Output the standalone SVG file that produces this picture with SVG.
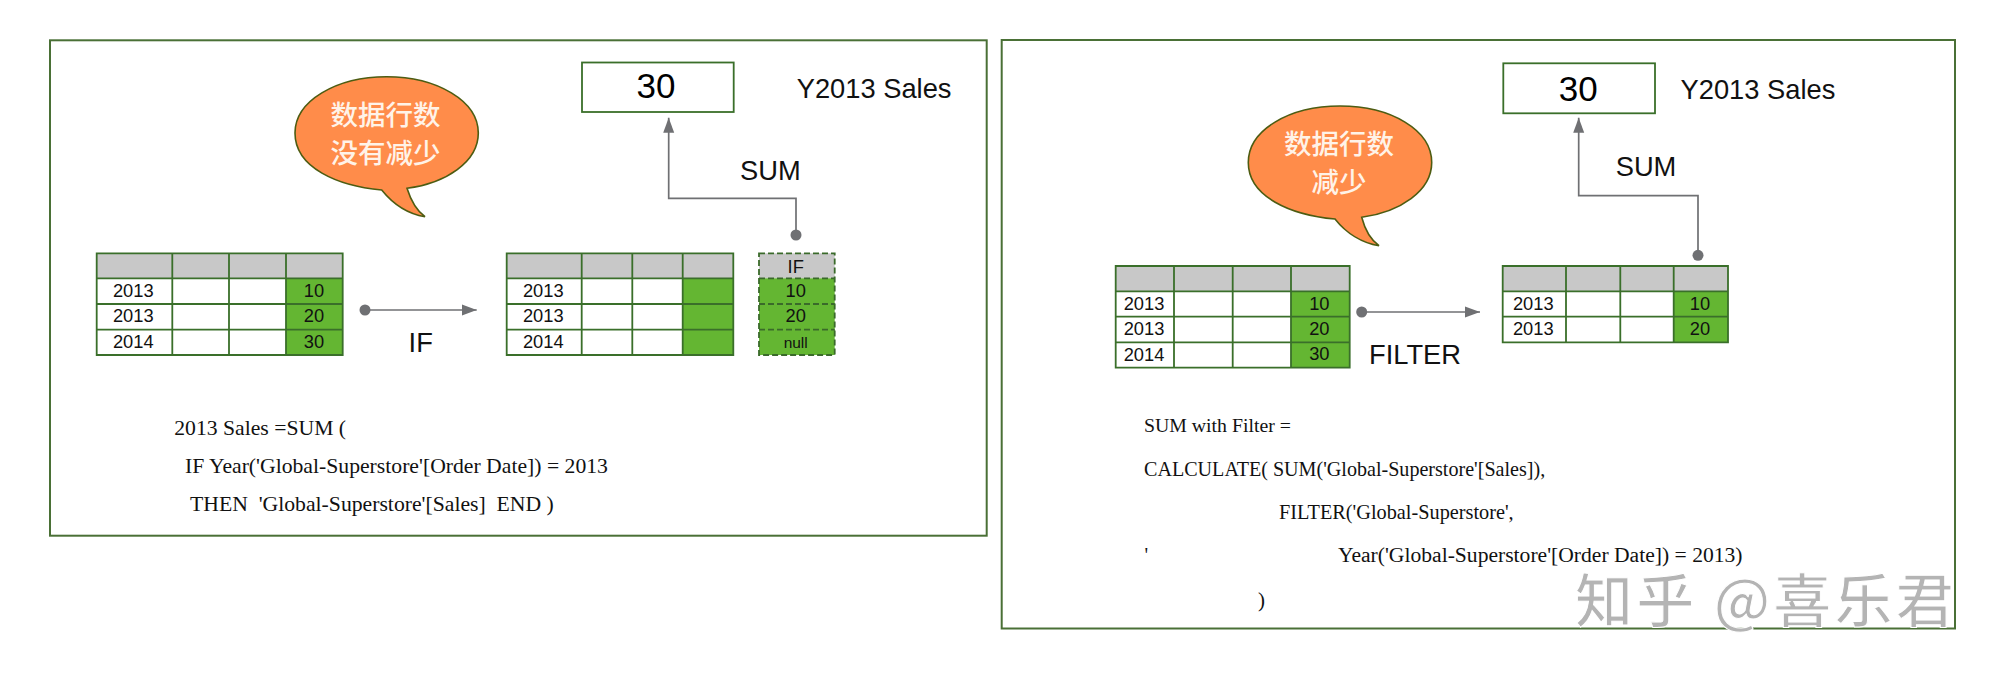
<svg xmlns="http://www.w3.org/2000/svg" width="2000" height="682" viewBox="0 0 2000 682">
<style>
.bg{fill:#fff}
.frame{fill:#fff;stroke:#4a7036;stroke-width:2}
.g{fill:none;stroke:#3a6f2a;stroke-width:1.8}
.hd{fill:#c8c8c8}
.gr{fill:#64b632}
.t{font-family:"Liberation Sans",Arial,sans-serif;fill:#111;font-size:18.3px;text-anchor:middle}
.l{font-family:"Liberation Sans",Arial,sans-serif;fill:#111;font-size:27.3px}
.n{font-family:"Liberation Sans",Arial,sans-serif;fill:#000;font-size:35px;text-anchor:middle}
.f{font-family:"Liberation Serif","Times New Roman",serif;fill:#111;font-size:21.7px}
.b{fill:#ff8c4a;stroke:#4d5c12;stroke-width:1.6}
.c{font-family:"Noto Sans CJK SC","Noto Sans",sans-serif;fill:#fff3e8;font-size:27.5px;font-weight:500;text-anchor:middle}
.w{fill:none;stroke:#6f7073;stroke-width:1.7}
.d{fill:#6f7073}
.wm{font-family:"Noto Sans CJK SC",sans-serif;font-size:58px;font-weight:500;fill:#b4b4b4;stroke:#fff;stroke-width:1;letter-spacing:3.2px}
.ds{stroke-dasharray:6 3;stroke:#3a6a2a}
</style>
<defs>
<marker id="arrow" markerUnits="userSpaceOnUse" markerWidth="16" markerHeight="12" refX="15" refY="6" orient="auto"><path d="M0 0.5L15 6L0 11.5Z" fill="#6f7073"/></marker>
</defs>
<rect class="bg" width="2000" height="682"/>
<rect id="frame-left" class="frame" x="50" y="40.3" width="936.7" height="495.4"/>
<rect id="frame-right" class="frame" x="1001.7" y="40" width="953.3" height="588.5"/>

<g id="bubble-left">
<path class="b" d="M381.7 190C338 186 295 168 295 133C295 101 336 76.7 386.7 76.7C437 76.7 478.3 101 478.3 133C478.3 162 446 183 407 188.3C411 201 417 211 425 216.7C408 214 393 204 381.7 190Z"/>
<text class="c" x="385.5" y="125">数据行数</text>
<text class="c" x="385.5" y="163">没有减少</text>
</g>
<g id="table-left-1">
<rect class="hd" x="96.7" y="253.3" width="246" height="25"/>
<rect class="gr" x="286" y="278.3" width="56.7" height="76.7"/>
<path class="g" d="M96.7 253.3H342.7V355H96.7ZM96.7 278.3H342.7M96.7 304H342.7M96.7 329.7H342.7M172.3 253.3V355M229 253.3V355M286 253.3V355"/>
<text class="t" x="133.3" y="296.7">2013</text><text class="t" x="133.3" y="321.7">2013</text><text class="t" x="133.3" y="347.7">2014</text>
<text class="t" x="314" y="296.7">10</text><text class="t" x="314" y="321.7">20</text><text class="t" x="314" y="347.7">30</text>
</g>
<g id="table-left-2">
<rect class="hd" x="506.7" y="253.3" width="226.6" height="25"/>
<rect class="gr" x="682.7" y="278.3" width="50.6" height="76.7"/>
<path class="g" d="M506.7 253.3H733.3V355H506.7ZM506.7 278.3H733.3M506.7 304H733.3M506.7 329.7H733.3M581.7 253.3V355M632.3 253.3V355M682.7 253.3V355"/>
<text class="t" x="543.3" y="296.7">2013</text><text class="t" x="543.3" y="321.7">2013</text><text class="t" x="543.3" y="347.7">2014</text>
</g>
<g id="column-if">
<rect class="hd" x="759" y="253.3" width="75.7" height="25"/>
<rect class="gr" x="759" y="278.3" width="75.7" height="76.7"/>
<path class="g ds" d="M759 253.3H834.7V355H759ZM759 278.3H834.7M759 304H834.7M759 329.7H834.7"/>
<text class="t" x="795.7" y="273.3">IF</text><text class="t" x="795.7" y="296.7">10</text><text class="t" x="795.7" y="321.7">20</text>
<text class="t" style="font-size:15.5px" x="795.7" y="348">null</text>
</g>
<g id="result-left">
<rect class="g" x="582" y="62.5" width="151.7" height="49.5"/>
<text class="n" x="656" y="98.3">30</text>
</g>
<g id="bubble-right">
<path class="b" d="M1335 219C1291 215 1248.3 197 1248.3 162.5C1248.3 130 1289 106 1340 106C1391 106 1431.7 130 1431.7 162.5C1431.7 191 1400 212 1361.7 217.3C1365 230 1371 240 1379 245.7C1362 243 1346 233 1335 219Z"/>
<text class="c" x="1339" y="154">数据行数</text>
<text class="c" x="1339" y="192">减少</text>
</g>
<g id="table-right-1">
<rect class="hd" x="1115.7" y="266" width="234" height="25.3"/>
<rect class="gr" x="1291" y="291.3" width="58.7" height="76.4"/>
<path class="g" d="M1115.7 266H1349.7V367.7H1115.7ZM1115.7 291.3H1349.7M1115.7 316.7H1349.7M1115.7 342.3H1349.7M1174 266V367.7M1232.7 266V367.7M1291 266V367.7"/>
<text class="t" x="1144" y="309.8">2013</text><text class="t" x="1144" y="334.8">2013</text><text class="t" x="1144" y="360.5">2014</text>
<text class="t" x="1319.3" y="309.8">10</text><text class="t" x="1319.3" y="334.8">20</text><text class="t" x="1319.3" y="360">30</text>
</g>
<g id="table-right-2">
<rect class="hd" x="1502.7" y="266" width="225.3" height="25.3"/>
<rect class="gr" x="1673.7" y="291.3" width="54.3" height="51"/>
<path class="g" d="M1502.7 266H1728V342.3H1502.7ZM1502.7 291.3H1728M1502.7 316.7H1728M1566 266V342.3M1620.3 266V342.3M1673.7 266V342.3"/>
<text class="t" x="1533.3" y="309.8">2013</text><text class="t" x="1533.3" y="334.8">2013</text>
<text class="t" x="1700" y="309.8">10</text><text class="t" x="1700" y="334.8">20</text>
</g>
<g id="result-right">
<rect class="g" x="1503.3" y="63.3" width="151.7" height="50"/>
<text class="n" x="1578.3" y="100.5">30</text>
</g>

<g id="connectors">
<path class="w" marker-end="url(#arrow)" d="M365 310H476.7"/><circle class="d" cx="365" cy="310" r="5.5"/>
<path class="w" marker-end="url(#arrow)" d="M796 235V198.3H668.7V117.7"/><circle class="d" cx="796" cy="235" r="5.5"/>
<path class="w" marker-end="url(#arrow)" d="M1361.7 312H1480"/><circle class="d" cx="1361.7" cy="312" r="5.5"/>
<path class="w" marker-end="url(#arrow)" d="M1698 255.3V195.7H1578.7V117.7"/><circle class="d" cx="1698" cy="255.3" r="5.5"/>
</g>

<g id="labels">
<text class="l" x="420.7" y="352" text-anchor="middle">IF</text>
<text class="l" x="796.7" y="98.3">Y2013 Sales</text>
<text class="l" x="740" y="180">SUM</text>
<text class="l" x="1369" y="364.3">FILTER</text>
<text class="l" x="1680.5" y="99">Y2013 Sales</text>
<text class="l" x="1615.7" y="175.7">SUM</text>
</g>
<g id="formula-left">
<text class="f" x="174.2" y="435">2013 Sales =SUM (</text>
<text class="f" x="185" y="473">IF Year('Global-Superstore'[Order Date]) = 2013</text>
<text class="f" x="190" y="511" xml:space="preserve">THEN  'Global-Superstore'[Sales]  END )</text>
</g>
<g id="formula-right">
<text class="f" style="font-size:19.8px" x="1144" y="432.3">SUM with Filter =</text>
<text class="f" style="font-size:20.1px" x="1144" y="475.5">CALCULATE( SUM('Global-Superstore'[Sales]),</text>
<text class="f" style="font-size:20.3px" x="1279" y="519">FILTER('Global-Superstore',</text>
<text class="f" style="font-size:20px" x="1144.4" y="562">'</text>
<text class="f" style="font-size:21.6px" x="1338" y="562">Year('Global-Superstore'[Order Date]) = 2013)</text>
<text class="f" style="font-size:21px" x="1258" y="606.7">)</text>
</g>
<g id="watermark">
<text class="wm" x="1575" y="622">知乎 @喜乐君</text>
</g>
</svg>
